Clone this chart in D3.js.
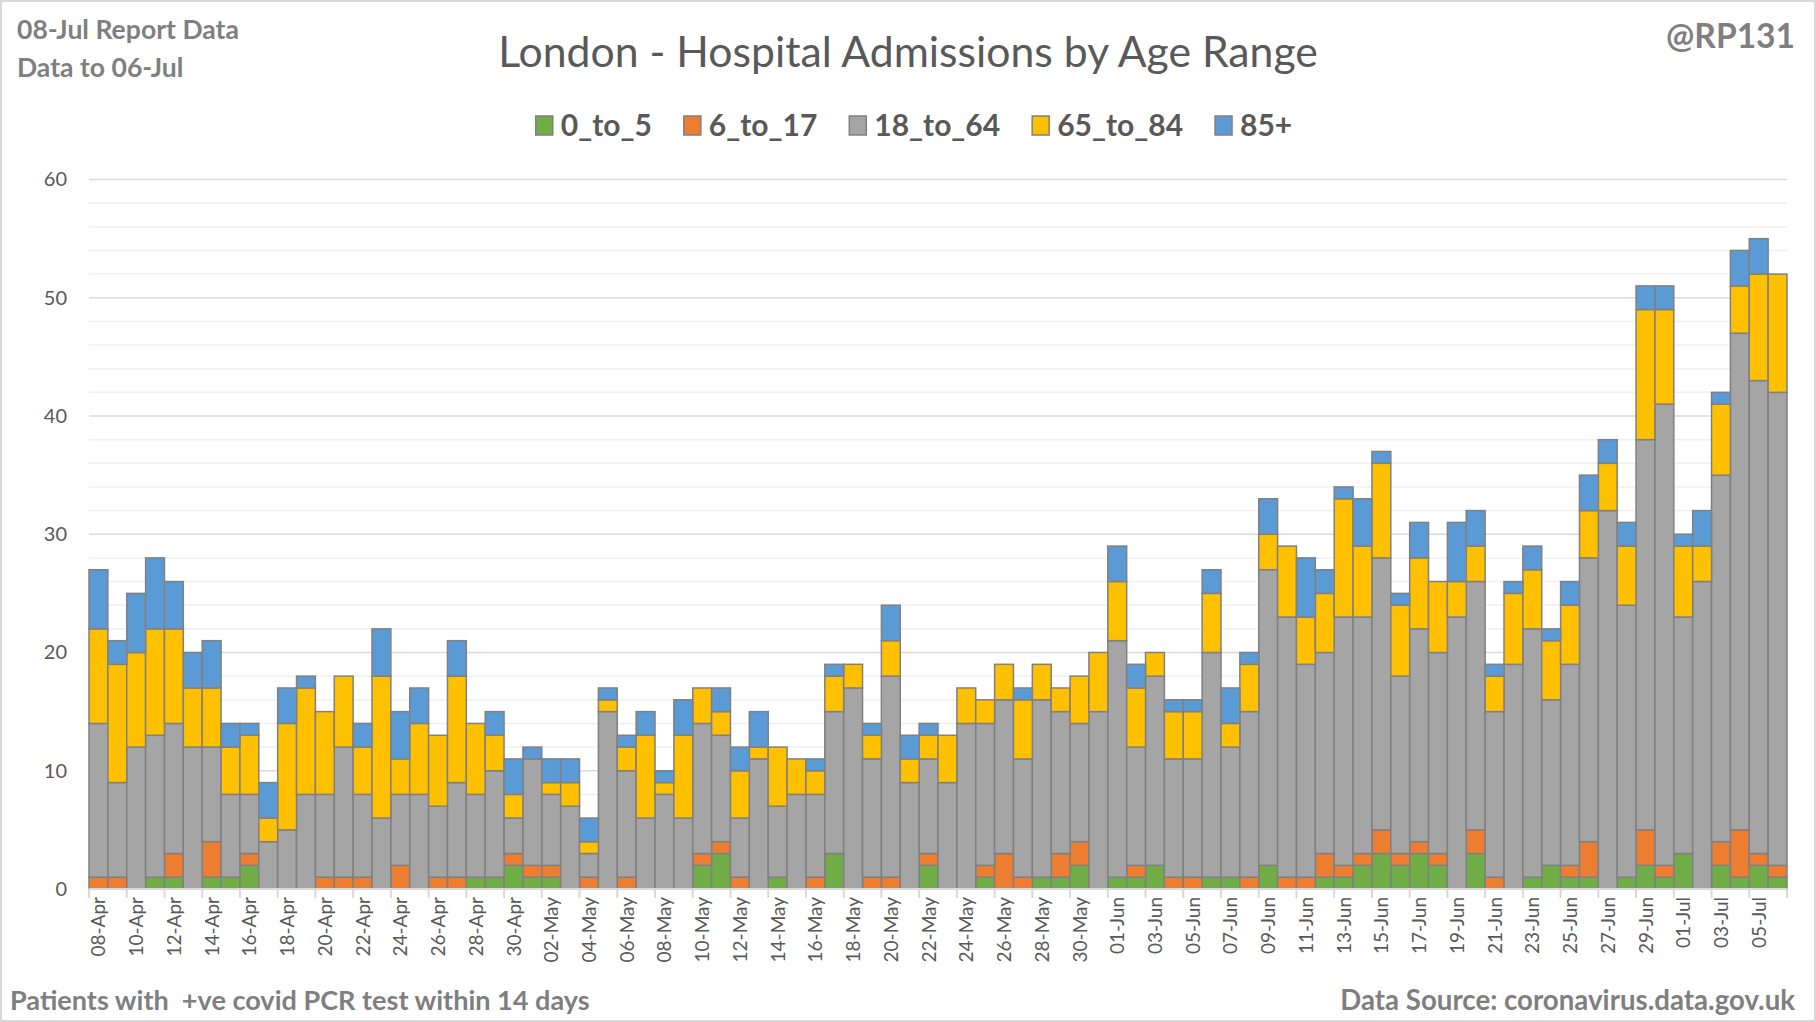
<!DOCTYPE html>
<html><head><meta charset="utf-8">
<script src="https://cdn.jsdelivr.net/npm/d3@7"></script>
<style>
html,body{margin:0;padding:0;background:#fff;}
svg{display:block;font-family:Lato,"Open Sans",sans-serif;}
text{white-space:pre;}
</style></head>
<body><svg id="c" width="1816" height="1022"></svg>
<script>
// ---- data ----
const startDate = "2021-04-08", endDate = "2021-07-06";
const seriesNames = ["0_to_5","6_to_17","18_to_64","65_to_84","85+"];
const seriesColors = ["#70ad47","#ed7d31","#a5a5a5","#ffc000","#5b9bd5"];
const age0_5   = [0,0,0,1,1,0,1,1,2,0, 0,0,0,0,0,0,0,0,0,0, 1,1,2,1,1,0,0,0,0,0, 0,0,2,3,0,0,1,0,0,3, 0,0,0,0,2,0,0,1,0,0, 1,1,2,0,1,1,2,0,0,1, 1,0,2,0,0,1,1,2,3,2, 3,2,0,3,0,0,1,2,1,1, 0,1,2,1,3,0,2,1,2,1];
const age6_17  = [1,1,0,0,2,0,3,0,1,0, 0,0,1,1,1,0,2,0,1,1, 0,0,1,1,1,0,1,0,1,0, 0,0,1,1,1,0,0,0,1,0, 0,1,1,0,1,0,0,1,3,1, 0,2,2,0,0,1,0,1,1,0, 0,1,0,1,1,2,1,1,2,1, 1,1,0,2,1,0,0,0,1,3, 0,0,3,1,0,0,2,4,1,1];
const age18_64 = [13,8,12,12,11,12,8,7,5,4, 5,8,7,11,7,6,6,8,6,8, 7,9,3,9,6,7,2,15,9,6, 8,6,11,9,5,11,6,8,7,12, 17,10,17,9,8,9,14,12,13,10, 15,12,10,15,20,10,16,10,10,19, 11,14,25,22,18,17,21,20,23,15, 18,17,23,21,14,19,21,14,17,24, 32,23,33,39,20,26,31,42,40,40];
const age65_84 = [8,10,8,9,8,5,5,4,5,2, 9,9,7,6,4,12,3,6,6,9, 6,3,2,0,1,2,1,1,2,7, 1,7,3,2,4,1,5,3,2,3, 2,2,3,2,2,4,3,2,3,5, 3,2,4,5,5,5,2,4,4,5, 2,4,3,6,4,5,10,6,8,6, 6,6,3,3,3,6,5,5,5,4, 4,5,11,8,6,3,6,4,9,10];
const age85p   = [5,2,5,6,4,3,4,2,1,3, 3,1,0,0,2,4,4,3,0,3, 0,2,3,1,2,2,2,1,1,2, 1,3,0,2,2,3,0,0,1,1, 0,1,3,2,1,0,0,0,0,1, 0,0,0,0,3,2,0,1,1,2, 3,1,3,0,5,2,1,4,1,1, 3,0,5,3,1,1,2,1,2,3, 2,2,2,2,1,3,1,3,3,0];
const yTicks = [0,10,20,30,40,50,60];
const titleText = "London - Hospital Admissions by Age Range";
const topLeft = ["08-Jul Report Data","Data to 06-Jul"];
const topRight = "@RP131";
const footLeft = "Patients with  +ve covid PCR test within 14 days";
const footRight = "Data Source: coronavirus.data.gov.uk";

// categories
const fmt = d3.timeFormat("%d-%b");
const parse = d3.timeParse("%Y-%m-%d");
const dates = d3.timeDays(parse(startDate), d3.timeDay.offset(parse(endDate),1));
const categories = dates.map(fmt);
const seriesVals = [age0_5, age6_17, age18_64, age65_84, age85p];
const rows = categories.map((c,i)=>{const r={cat:c}; seriesNames.forEach((s,k)=>r[s]=seriesVals[k][i]); return r;});

const svg = d3.select("#c");
const W=1816,H=1022;
svg.append("rect").attr("x",1).attr("y",1).attr("width",W-2).attr("height",H-2).attr("fill","#fff").attr("stroke","#d9d9d9").attr("stroke-width",2);

const plot={l:89,r:1787,t:179.5,b:889};
const x=d3.scaleBand().domain(categories).range([plot.l,plot.r]).padding(0);
const y=d3.scaleLinear().domain([0,60]).range([plot.b,plot.t]);

// gridlines
const minor=d3.range(2,61,2).filter(v=>v%10!==0);
svg.append("g").selectAll("line").data(minor).join("line")
  .attr("x1",plot.l).attr("x2",plot.r).attr("y1",d=>y(d)).attr("y2",d=>y(d))
  .attr("stroke","#f0f0f0").attr("stroke-width",1.5);
svg.append("g").selectAll("line").data(yTicks.filter(v=>v>0)).join("line")
  .attr("x1",plot.l).attr("x2",plot.r).attr("y1",d=>y(d)).attr("y2",d=>y(d))
  .attr("stroke","#d9d9d9").attr("stroke-width",1.5);

// y axis labels
const yAxis=d3.axisLeft(y).tickValues(yTicks).tickSize(0).tickPadding(0);
const ya=svg.append("g").attr("transform",`translate(${plot.l-22},0)`).call(yAxis);
ya.select(".domain").remove();
ya.selectAll("text").attr("font-family","Lato").attr("font-size",20).attr("fill","#595959");

// bars
const stack=d3.stack().keys(seriesNames)(rows);
const bw=x.bandwidth();
svg.append("g").selectAll("g").data(stack).join("g")
  .attr("fill",(d,i)=>seriesColors[i])
  .selectAll("rect").data(d=>d.filter(s=>s[1]-s[0]>0)).join("rect")
  .attr("x",d=>x(d.data.cat)).attr("width",bw)
  .attr("y",d=>y(d[1])).attr("height",d=>y(d[0])-y(d[1]))
  .attr("stroke","#808080").attr("stroke-width",1.5);

// x axis line and ticks
svg.append("line").attr("x1",plot.l).attr("x2",plot.r).attr("y1",plot.b).attr("y2",plot.b)
  .attr("stroke","#d9d9d9").attr("stroke-width",2);
const tickCats=categories.filter((c,i)=>i%2===0);
const tickXs=tickCats.map(c=>x(c)).concat([plot.r]);
svg.append("g").selectAll("line").data(tickXs).join("line")
  .attr("x1",d=>d).attr("x2",d=>d).attr("y1",plot.b).attr("y2",plot.b+9)
  .attr("stroke","#d9d9d9").attr("stroke-width",2);
svg.append("g").selectAll("text").data(tickCats).join("text")
  .attr("transform",c=>`translate(${x(c)+bw/2+7},${plot.b+8}) rotate(-90)`)
  .attr("text-anchor","end").attr("font-family","Lato").attr("font-size",19).attr("fill","#595959")
  .text(c=>c);

// helper: fit text width
function fit(t,w){const n=t.node();const l=n.getComputedTextLength();const fs=parseFloat(t.attr("font-size"));t.attr("font-size",fs*w/l);}

// title
const tt=svg.append("text").attr("x",908).attr("y",67).attr("text-anchor","middle")
  .attr("font-family","Lato").attr("font-size",44).attr("fill","#595959").text(titleText);
fit(tt,820);

// top-left
const tl1=svg.append("text").attr("x",17).attr("y",39).attr("font-family","Lato").attr("font-weight","bold")
   .attr("font-size",24).attr("fill","#7f7f7f").text(topLeft[0]);
fit(tl1,222);
svg.append("text").attr("x",17).attr("y",77).attr("font-family","Lato").attr("font-weight","bold")
   .attr("font-size",tl1.attr("font-size")).attr("fill","#7f7f7f").text(topLeft[1]);

// top-right
const tr=svg.append("text").attr("x",1795).attr("y",48).attr("text-anchor","end").attr("font-family","Lato")
  .attr("font-weight","bold").attr("font-size",32).attr("fill","#7f7f7f").text(topRight);
fit(tr,129);

// footers
const fl=svg.append("text").attr("x",10).attr("y",1010).attr("font-family","Lato").attr("font-weight","bold")
  .attr("font-size",24).attr("fill","#7f7f7f").text(footLeft);
fit(fl,580);
const fr=svg.append("text").attr("x",1795).attr("y",1010).attr("text-anchor","end").attr("font-family","Lato").attr("font-weight","bold")
  .attr("font-size",24).attr("fill","#7f7f7f").text(footRight);
fit(fr,455);

// legend
const lg=svg.append("g");
let cx=0;
const gap=32;
seriesNames.forEach((s,i)=>{
  const g=lg.append("g").attr("transform",`translate(${cx},0)`);
  g.append("rect").attr("x",0).attr("y",-9).attr("width",17).attr("height",19).attr("fill",seriesColors[i]).attr("stroke","#808080").attr("stroke-width",1.5);
  const t=g.append("text").attr("x",25).attr("y",11).attr("font-family","Lato").attr("font-weight","bold")
    .attr("font-size",30).attr("fill","#595959").text(s);
  const w=25+t.node().getComputedTextLength();
  cx+=w+gap;
});
const totalW=cx-gap;
lg.attr("transform",`translate(${914-totalW/2},125)`);
</script></body></html>
